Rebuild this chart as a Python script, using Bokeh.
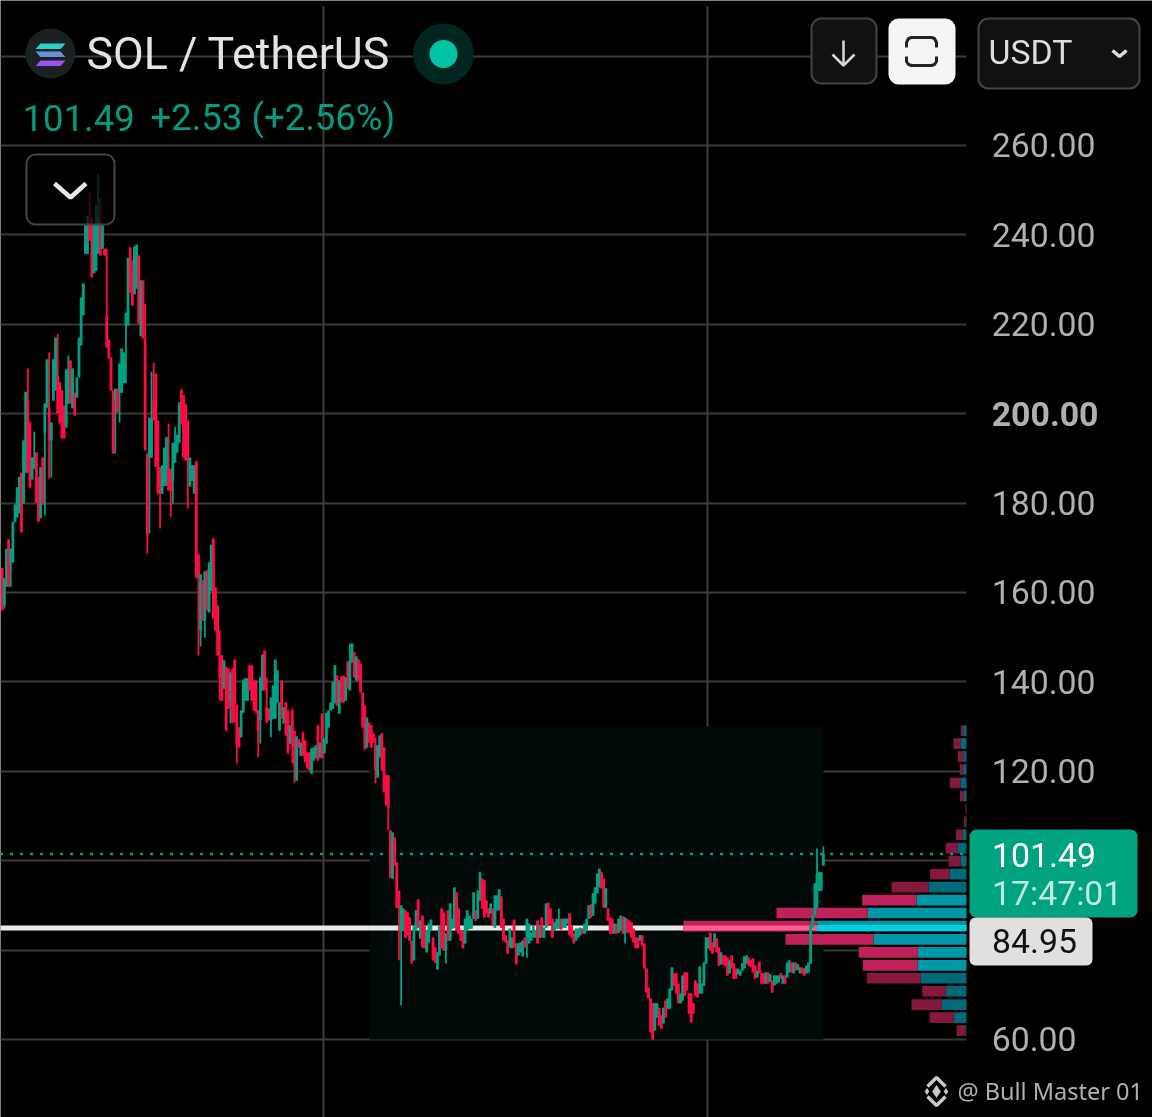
from bokeh.plotting import figure
from bokeh.models import Range1d, LinearAxis, Grid, FixedTicker, PrintfTickFormatter, ColumnDataSource
from bokeh.core.properties import value
from bokeh.embed import file_html
from bokeh.resources import INLINE

# ---------- chart values ----------
body_high = [
165.4,163.1,169.8,171.9,169.8,175.7,179.7,183.5,185.9,186.8,
194.0,204.9,202.9,198.0,190.2,190.2,191.3,185.9,188.0,190.2,
202.3,212.1,201.2,198.0,212.1,217.0,208.5,207.0,205.2,201.8,
209.9,209.9,211.9,210.1,204.7,208.1,217.0,226.0,229.1,242.1,
244.3,243.2,243.9,242.1,246.6,244.3,241.7,242.1,236.9,222.0,
216.6,212.6,205.2,205.6,205.6,211.2,214.6,213.7,222.6,234.9,
237.2,232.0,237.4,237.8,235.4,229.8,229.8,216.4,191.1,199.1,
199.1,202.9,209.0,198.5,188.0,188.4,192.4,194.7,187.7,187.7,
193.5,193.5,195.3,202.5,205.4,204.1,202.1,198.5,190.2,188.4,
188.4,189.3,168.5,164.0,162.7,164.7,164.9,166.7,170.7,172.1,
161.1,157.1,145.9,145.9,144.8,143.4,143.0,142.1,143.0,145.0,
134.9,129.8,133.6,140.5,140.8,140.8,143.7,143.7,140.3,140.3,
133.6,141.0,146.1,147.0,134.3,134.0,136.5,139.2,145.0,142.6,
135.4,140.3,134.3,135.4,133.6,130.3,133.8,129.1,127.8,127.1,
126.4,128.7,126.9,124.2,124.2,125.1,125.3,125.8,130.3,126.4,
132.9,127.3,133.1,133.6,135.4,139.9,143.7,141.4,140.3,141.2,
141.4,141.0,144.6,144.8,148.6,146.6,145.7,145.0,144.1,137.6,
134.7,132.0,130.9,130.3,128.5,125.8,125.8,128.0,128.5,125.3,
119.1,119.1,106.8,106.3,105.2,99.6,93.3,90.0,89.3,88.9,
88.4,87.3,82.1,85.5,88.9,91.3,86.6,87.7,85.5,84.4,
85.9,86.8,82.8,80.6,79.5,85.5,89.3,88.4,83.7,88.9,
90.4,87.0,94.0,92.9,89.3,84.4,84.4,87.0,88.9,87.7,
87.0,92.9,88.9,93.3,97.4,96.0,95.6,91.1,89.3,90.4,
89.3,92.2,92.2,93.6,92.0,87.0,83.3,82.1,84.8,82.8,
86.8,81.5,81.5,81.7,82.1,82.8,87.0,85.9,83.9,85.5,
84.4,86.6,85.5,87.3,85.0,90.4,90.6,89.3,87.0,86.2,
87.0,87.0,87.0,87.0,87.0,87.0,88.2,85.5,83.7,84.8,
84.8,85.0,84.8,85.9,87.0,90.0,90.2,92.7,94.0,97.1,
98.2,97.4,96.0,93.8,89.3,87.3,87.0,85.9,85.9,87.0,
87.7,87.5,87.3,87.0,86.6,86.2,84.8,82.8,82.8,83.3,
83.3,81.5,75.9,71.6,69.2,68.1,68.1,68.1,67.1,65.4,
67.1,68.7,69.2,71.4,76.1,74.8,74.8,72.5,70.3,74.3,
75.0,75.0,70.3,70.3,68.1,73.2,72.5,76.3,72.5,77.2,
82.8,82.8,83.9,81.7,83.7,82.6,80.6,79.5,78.8,78.8,
78.3,77.7,78.8,77.0,75.9,75.8,75.4,77.0,78.6,78.8,78.3,77.8,
78.1,76.5,75.4,77.4,74.8,74.8,75.0,75.0,74.6,73.2,74.3,
74.3,74.3,74.8,74.3,74.3,77.2,77.7,77.2,77.2,77.2,76.8,
76.1,76.1,75.9,76.5,77.2,85.5,87.7,94.9,97.1,97.4,97.4,101.49,
]
body_low = [
156.0,157.1,161.3,161.3,166.9,166.7,175.7,176.8,177.7,173.4,
179.9,186.8,186.8,183.5,185.3,187.7,180.1,175.9,176.6,179.7,
195.6,201.4,194.0,194.0,202.9,205.2,200.0,197.8,194.5,194.5,
196.9,202.3,202.3,201.2,199.6,203.6,208.1,215.3,222.0,235.8,
235.8,238.7,230.5,231.4,232.0,235.8,235.4,236.9,235.4,214.8,
212.4,205.2,191.1,202.9,200.3,205.2,204.7,206.8,219.7,219.7,
227.1,224.2,226.7,228.0,220.2,217.3,216.8,191.8,172.8,190.2,
190.2,198.5,188.0,182.1,182.1,182.1,183.9,183.9,182.8,182.8,
185.0,189.1,191.3,193.5,197.8,190.2,189.5,189.5,183.7,185.0,
182.1,163.3,163.3,151.5,153.7,153.7,156.0,155.5,160.4,154.2,
151.5,145.9,141.0,135.8,138.5,129.1,134.0,135.8,130.9,134.9,
125.8,125.3,127.6,133.1,135.8,135.8,138.1,135.8,133.6,133.1,
129.1,131.4,138.1,138.1,130.9,131.4,131.4,131.8,131.8,135.4,
129.1,131.8,130.7,128.0,124.0,126.2,125.8,121.3,117.9,125.3,
123.5,123.5,122.0,120.6,120.2,119.5,122.4,122.9,122.4,123.1,
122.9,124.0,126.2,129.8,133.6,134.0,135.2,134.7,132.9,135.4,
135.4,135.8,138.5,138.1,144.3,141.0,140.3,140.3,137.6,129.8,
124.9,125.3,126.4,125.3,126.4,120.2,118.6,123.1,120.2,115.3,
112.4,111.9,96.2,96.0,98.9,89.5,89.5,84.4,84.4,82.8,
83.3,82.1,77.0,77.7,84.4,85.0,82.6,80.6,80.4,79.5,
81.7,84.4,77.7,77.2,75.7,78.8,80.4,79.9,79.9,82.1,
82.1,84.8,85.0,84.4,83.7,82.1,80.4,81.5,84.4,84.8,
84.8,87.0,86.6,87.0,91.1,89.3,87.3,88.2,87.3,88.2,
85.5,85.0,88.9,88.9,85.0,82.1,81.7,79.2,80.6,80.4,
80.6,76.8,78.8,79.5,78.6,80.6,82.8,81.5,82.1,82.8,
82.8,81.5,82.8,82.8,82.8,85.0,85.5,85.9,82.8,84.4,
84.8,84.8,84.6,85.0,85.0,85.9,83.3,82.8,81.5,82.1,
82.8,83.3,83.7,83.7,84.4,87.0,87.3,87.7,90.4,92.7,
94.0,93.8,89.5,89.5,86.6,83.7,83.7,83.7,83.7,83.9,
84.4,83.7,83.7,83.9,83.9,82.8,81.7,80.4,80.4,82.1,
81.0,75.9,70.5,69.2,61.6,60.0,62.0,64.9,63.1,62.4,
63.6,64.9,66.9,66.9,71.0,72.1,70.3,68.1,68.1,68.7,
69.8,71.0,65.8,63.8,65.8,69.8,69.4,70.3,70.3,72.1,
77.0,80.4,79.9,79.2,80.6,79.5,76.5,76.8,76.8,76.5,
74.3,74.8,75.9,73.6,73.6,74.6,74.3,75.4,75.9,77.0,76.5,76.2,
75.0,73.6,73.9,74.8,72.5,72.5,72.5,72.5,72.9,70.5,72.1,
72.5,72.8,73.6,72.5,72.5,73.9,75.0,75.0,74.8,75.4,75.6,
74.8,74.8,74.3,74.8,75.0,77.0,85.0,87.7,89.5,93.3,93.3,98.9,
]
direction = """
D U U D U U U U U D
U U D D U U D D U D
U U D U U U D D D D
U U D U D U U U U U
U D D U U U D U D D
D D D U D U U U U U
D D U U D U D D D U
U D D D D U U U D D
U U U U D D D D U U
U D D U D U D U U D
D D D D U D D U D D
D D U U U U D D D D
D U U D D D U U U U
U D U D D U D D U D
U D D D D U U U D U
D U U U U U U D U D
D U D U U D U D D D
D U D D D D U U D D
D D D U D D D U U D
D D D U U D U D D U
U U D D U U D D U D
U U U D D D D U U U
U U D U U D D D D U
D U U U D D D D U U
D D U U U D U U U U
U D U D U U D D D U
U U D U U U D D D U
U U D U U U D U U U
U D D U D D D U D U
U D U D D D D D D U
D D D D D D U U D D
U D U U U D D D U U
D D D D D D D U U U
U U D D U D D U D D
D U D D D U U U U U D D
D D U D D D U D U D U
U U D U D U U D U D U
U D D U U U U U U U U U
""".split()
upper_wicks = {12:210.1,15:196.0,22:213.7,26:217.9,31:213.0,41:249.5,45:253.7,46:248.4,49:236.9,61:234.3,
               67:224.6,70:209.4,71:211.4,78:197.8,81:197.1,102:151.5,124:141.0,163:148.6,175:127.6,261:89.3,
               382:102.7,385:103.2}
lower_wicks = {1:156.4,4:161.3,20:177.2,22:185.5,23:185.7,53:191.1,55:198.0,58:206.8,68:168.7,69:173.2,
               74:174.3,79:177.0,80:179.9,87:178.8,92:145.9,93:147.9,95:149.9,102:135.8,107:130.7,109:130.9,
               110:121.8,120:123.1,121:126.2,126:127.6,136:121.8,137:117.3,175:117.3,181:106.8,186:77.7,187:67.6,
               208:77.0,246:78.3,292:81.5}

profile_price = [129.1,126.2,123.3,120.4,117.4,114.5,111.6,108.7,105.8,102.8,99.9,97.0,
                 94.1,91.2,88.3,85.35,82.4,79.5,76.6,73.7,70.8,67.8,64.9,62.0]
profile_buy  = [3.3,6,3.3,3.3,6,2.7,0.3,0.7,3.7,8.7,6,17,38,50,98.7,149.3,93,48.7,49,46,20.7,24.7,12.7,1]
profile_sell = [2.4,7,5.4,3.4,10.7,4,0.7,2,7,12.3,12,19.3,37,54.3,91.3,133.7,88,59,54.7,53.7,23.6,30.3,24.3,9]
value_area = [13,14,15,16,17,18]

price_ticks = [60,120,140,160,180,220,240,260]
grid_ticks = [60,80,100,120,140,160,180,200,220,240,260,280]
bold_tick = [200]
time_ticks = [150.5,330.5]
last_price = 101.49
poc_price = 84.95

UP = "#00A080"; DOWN = "#FF0A45"
W, H = 1152, 1117

p = figure(width=W, height=H, output_backend="svg", toolbar_location=None,
           x_axis_type=None, y_axis_type=None,
           x_range=Range1d(-0.81, 539.3), y_range=Range1d(42.55, 292.43),
           min_border=0, min_border_left=0, min_border_right=0, min_border_top=0, min_border_bottom=0,
           background_fill_color="#000000", border_fill_color="#000000", outline_line_color=None)
p.styles = {"position": "fixed", "left": "0px", "top": "0px", "box-shadow": "0 0 0 40px #000000"}
p.extra_x_ranges["px"] = Range1d(0, W)
p.extra_y_ranges["px"] = Range1d(H, 0)
p.extra_x_ranges["vol"] = Range1d(966, 966 - W)
PX = dict(x_range_name="px", y_range_name="px")
AXIS_END = 452.2

p.add_layout(Grid(dimension=1, ticker=FixedTicker(ticks=grid_ticks), cross_bounds=(-1, AXIS_END),
                  grid_line_color="#3a3a3a", grid_line_width=2))
p.add_layout(Grid(dimension=0, ticker=FixedTicker(ticks=time_ticks), cross_bounds=(42.5, 291),
                  grid_line_color="#3d3d3d", grid_line_width=2))

def make_axis(ticks, **kw):
    ax = LinearAxis(ticker=FixedTicker(ticks=ticks), formatter=PrintfTickFormatter(format="%.2f"),
                    fixed_location=AXIS_END, axis_line_color=None, major_tick_line_color=None,
                    minor_tick_line_color=None, major_label_standoff=19,
                    major_label_text_font="Roboto", major_label_text_font_size="33.8px",
                    major_label_text_color="#b0b0b0", **kw)
    p.add_layout(ax, "right")
    return ax

make_axis(price_ticks)
make_axis(bold_tick, major_label_text_font_style="bold")

# chart region background of the fixed range profile
p.quad(left=172.2, right=385, top=130, bottom=60, fill_color="#020909", line_color=None)

# volume profile
bright_r, dark_r, bright_t, dark_t = "#C2205A", "#85183F", "#0097A8", "#006A78"
for i, (pr, b, s) in enumerate(zip(profile_price, profile_buy, profile_sell)):
    inside = i in value_area
    p.hbar(y=[pr], left=[0], right=[b], height=2.4, x_range_name="vol",
           fill_color=bright_t if inside else dark_t, line_color=None)
    p.hbar(y=[pr], left=[b], right=[b + s], height=2.4, x_range_name="vol",
           fill_color=bright_r if inside else dark_r, line_color=None)

# POC line
poc_idx = 15
p.segment(x0=[-1], x1=[319.4], y0=[poc_price], y1=[poc_price], line_color="#E8E8E8", line_width=5)
p.segment(x0=[profile_buy[poc_idx] + profile_sell[poc_idx]], x1=[profile_buy[poc_idx]], y0=[poc_price], y1=[poc_price],
          x_range_name="vol", line_color="#FF5C90", line_width=5)
p.segment(x0=[profile_buy[poc_idx]], x1=[0], y0=[poc_price], y1=[poc_price],
          x_range_name="vol", line_color="#00CFE0", line_width=6)

# last price dotted
p.segment(x0=[-1], x1=[453.5], y0=[last_price], y1=[last_price], line_color="#00A080", line_width=2.5, line_dash="3 7")

# candles
n = min(len(body_high), len(body_low), len(direction))
xs = list(range(n))
opens = [body_low[i] if direction[i] == "U" else body_high[i] for i in xs]
closes = [body_high[i] if direction[i] == "U" else body_low[i] for i in xs]
highs = [upper_wicks.get(i, body_high[i]) for i in xs]
lows = [lower_wicks.get(i, body_low[i]) for i in xs]
colors = [UP if d == "U" else DOWN for d in direction[:n]]
src = ColumnDataSource(dict(x=xs, o=opens, c=closes, h=highs, l=lows, top=body_high[:n], bot=body_low[:n], col=colors))
p.segment(x0="x", x1="x", y0="h", y1="l", line_color="col", line_width=1.8, source=src)
p.vbar(x="x", width=1.3, top="top", bottom="bot", fill_color="col", line_color=None, source=src)

# ---------- interface decoration ----------
def box(l, r, t, b, fill, line=None, lw=2, radius=9, alpha=1.0):
    p.quad(left=[l], right=[r], top=[t], bottom=[b], fill_color=fill, fill_alpha=alpha,
           line_color=line, line_width=lw, border_radius=radius, **PX)

def label(x, y, s, size, color, font="Roboto", style="normal"):
    p.text(x=[x], y=[y], text=[s], text_font=value(font), text_font_size=f"{size}px", text_color=color,
           text_baseline="middle", text_align="left", text_font_style=style, **PX)

# price tags
box(969, 1137, 829, 917, "#00A27F", radius=7)
box(969, 1092, 917, 965, "#E0E0E0", radius=6)
label(991.5, 854, "101.49", 33.8, "#FFFFFF")
label(991.5, 892.5, "17:47:01", 33.8, "#BDEBDF")
label(991.5, 940.5, "84.95", 33.8, "#111111")

# header
p.scatter(x=[50], y=[53], size=50, marker="circle", fill_color="#1B2020", line_color=None, **PX)
p.patches(xs=[[40, 65, 60, 35], [35, 60, 65, 40], [40, 65, 60, 35]],
          ys=[[43, 43, 48.5, 48.5], [51, 51, 56.5, 56.5], [60, 60, 65.5, 65.5]],
          fill_color=["#27D3C0", "#6C8FDC", "#9A52F0"], line_color=None, **PX)
label(86, 53, "SOL / TetherUS", 44.7, "#E4E4E4")
p.scatter(x=[443], y=[53.5], size=61, marker="circle", fill_color="#03251F", line_color=None, **PX)
p.scatter(x=[443], y=[53.5], size=28, marker="circle", fill_color="#00C4A3", line_color=None, **PX)
label(22, 117, "101.49", 36.5, "#059B80")
label(150, 117, "+2.53 (+2.56%)", 36.5, "#059B80")

# collapse button
box(26, 114, 154, 224, "#000000", line="#444444", radius=9, alpha=0.72)
p.line(x=[54, 70, 85.5], y=[183, 197, 183], line_color="#E8E8E8", line_width=4.5, **PX)

# right buttons
box(811, 876, 18, 83, "#111111", line="#444444", radius=10)
p.line(x=[843, 843], y=[40, 65], line_color="#D8D8D8", line_width=2.5, **PX)
p.line(x=[832, 843, 854], y=[54, 65, 54], line_color="#D8D8D8", line_width=2.5, **PX)
box(888, 955, 18, 84, "#F4F5F5", radius=10)
p.line(x=[906, 906, 908, 911, 931, 934, 936, 936], y=[47, 42, 38, 37, 37, 38, 42, 47], line_color="#222222", line_width=3, **PX)
p.line(x=[906, 906, 908, 911, 931, 934, 936, 936], y=[56, 61, 64, 65, 65, 64, 61, 56], line_color="#222222", line_width=3, **PX)
box(978, 1139, 18, 88, "#111111", line="#444444", radius=10)
label(988, 52, "USDT", 33.8, "#DDDDDD")
p.line(x=[1112, 1119, 1126], y=[50, 56, 50], line_color="#DDDDDD", line_width=3.5, **PX)

# watermark
p.scatter(x=[936, 926.5, 945.5], y=[1091, 1091, 1091], size=[13, 7, 7], marker="diamond",
          fill_color="#C8C8C8", line_color=None, **PX)
p.line(x=[927, 936, 945], y=[1086, 1077, 1086], line_color="#C8C8C8", line_width=3.5, **PX)
p.line(x=[927, 936, 945], y=[1096, 1105, 1096], line_color="#C8C8C8", line_width=3.5, **PX)
label(957, 1090, "@ Bull Master 01", 23.5, "#B0B0B0", font="Noto Sans")

open("out.html", "w").write(file_html(p, INLINE))
